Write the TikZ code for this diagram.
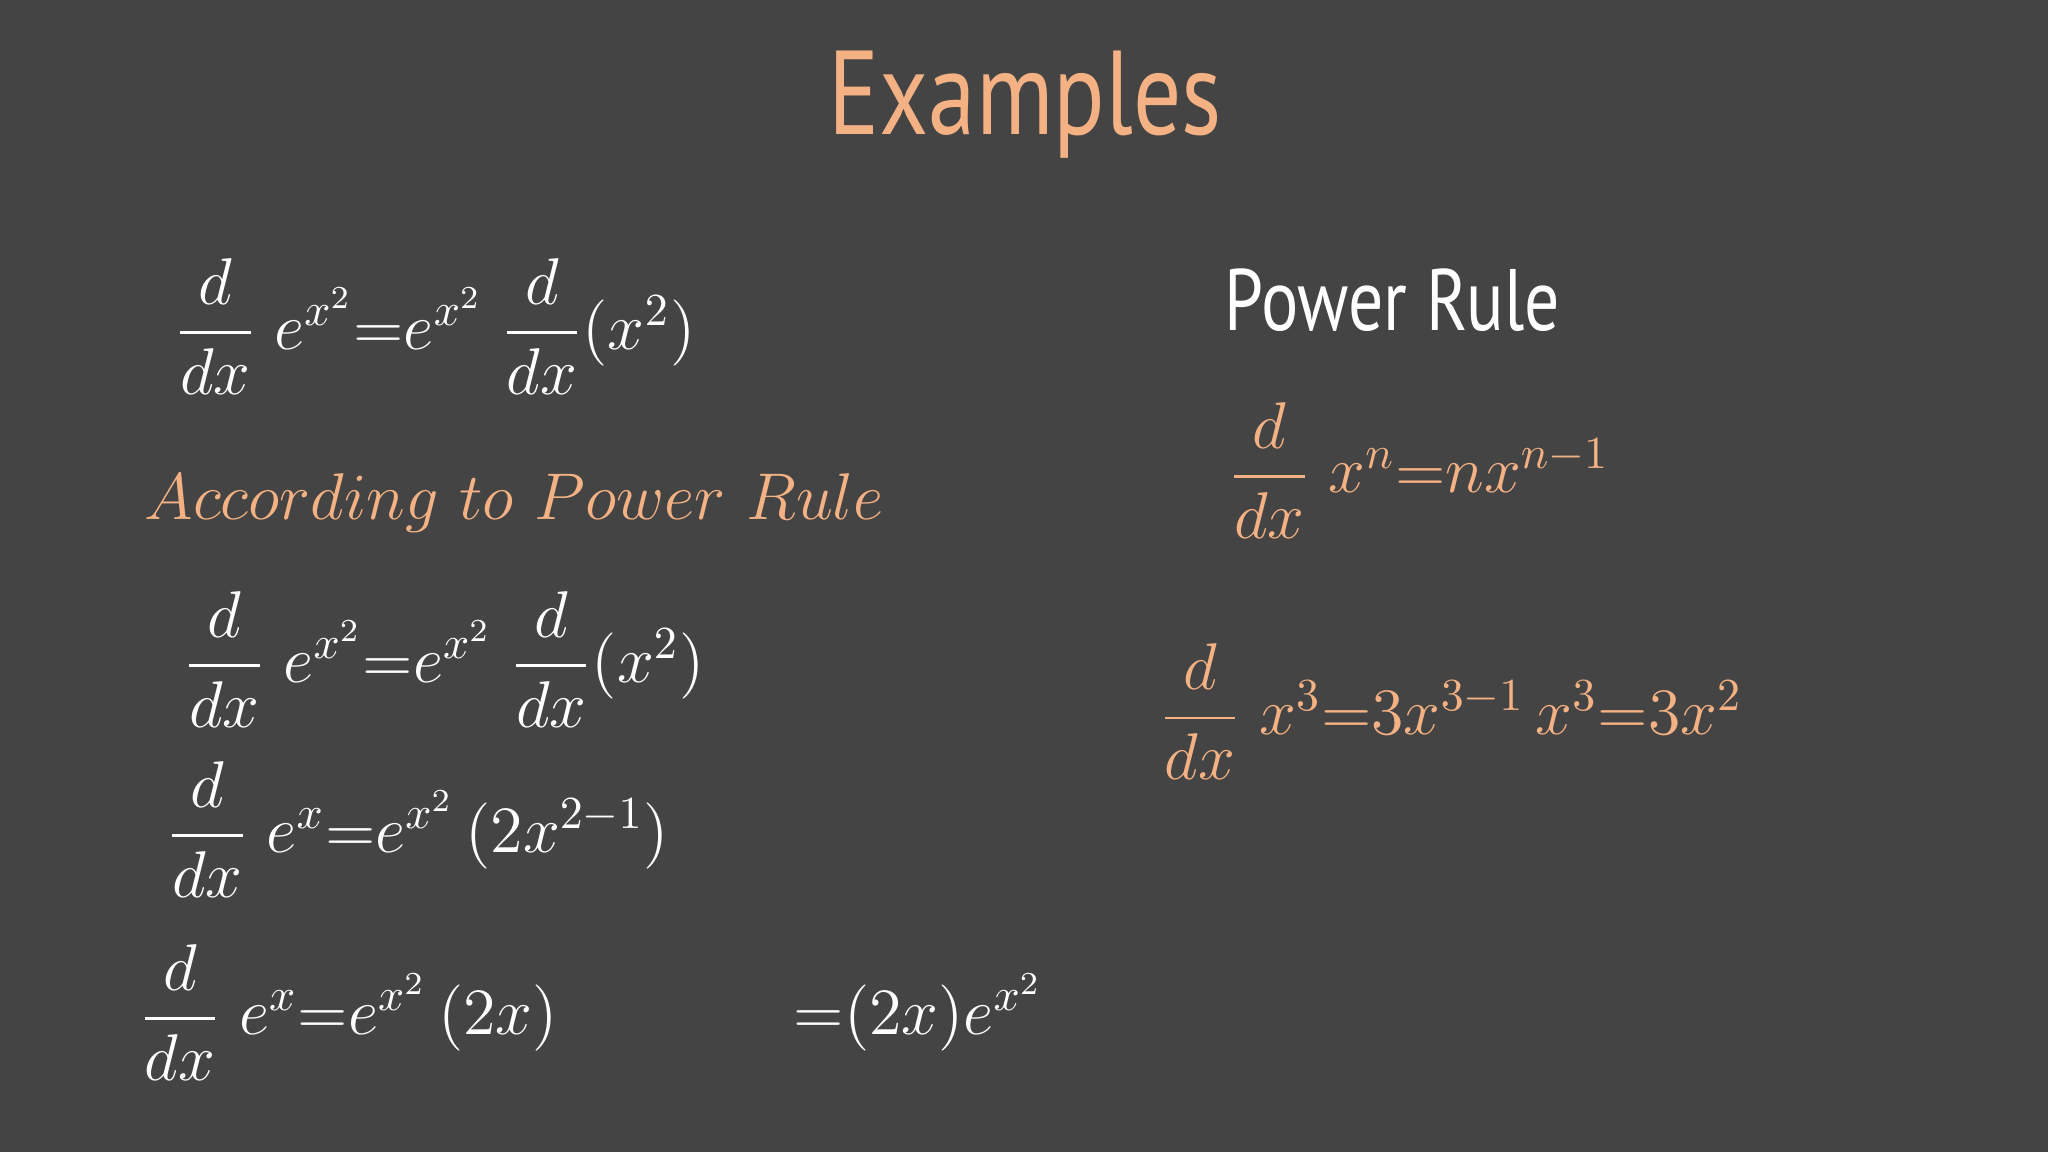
\documentclass[tikz,border=0pt]{standalone}
\usepackage{amsmath}
\usepackage{fontspec}
\newfontfamily\titlefont{PT Sans}
\definecolor{bg}{HTML}{444444}
\definecolor{peach}{HTML}{F4B183}
\tikzset{eq/.style={anchor=west,inner sep=0pt,font=\fontsize{14.5}{17}\selectfont},
 ttl/.style={inner sep=0pt,font=\titlefont\fontsize{26}{30}\selectfont}}
\begin{document}
\begin{tikzpicture}
\useasboundingbox (0,0) rectangle (15.68,-8.82);
\fill[bg] (0,0) rectangle (15.68,-8.82);
\node[ttl,text=peach,xscale=0.8] (title) at (7.85,-0.8) {Examples};
\node[eq,text=white] (e1) at (1.33,-2.5) {$\dfrac{d}{dx}\;e^{x^2}{=}e^{x^2}\;\dfrac{d}{dx}(x^2)$};
\node[eq,text=peach,font=\fontsize{14}{17}\selectfont] (acc) at (1.1,-3.85) {$According\ to\ Power\ Rule$};
\node[eq,text=white] (e2) at (1.40,-5.05) {$\dfrac{d}{dx}\;e^{x^2}{=}e^{x^2}\;\dfrac{d}{dx}(x^2)$};
\node[eq,text=white] (e3) at (1.27,-6.35) {$\dfrac{d}{dx}\;e^{x}{=}e^{x^2}\,(2x^{2-1})$};
\node[eq,text=white] (e4) at (1.06,-7.75) {$\dfrac{d}{dx}\;e^{x}{=}e^{x^2}\,(2x)$};
\node[eq,text=white] (e5) at (6.07,-7.75) {${=}(2x)e^{x^2}$};
\node[ttl,text=white,anchor=west,xscale=0.8,font=\titlefont\fontsize{19}{23}\selectfont] (pr) at (9.37,-2.3) {Power Rule};
\node[eq,text=peach] (r1) at (9.40,-3.6) {$\dfrac{d}{dx}\;x^{n}{=}nx^{n-1}$};
\node[eq,text=peach] (r2) at (8.87,-5.45) {$\dfrac{d}{dx}\;x^{3}{=}3x^{3-1}\,x^{3}{=}3x^{2}$};
\end{tikzpicture}
\end{document}
